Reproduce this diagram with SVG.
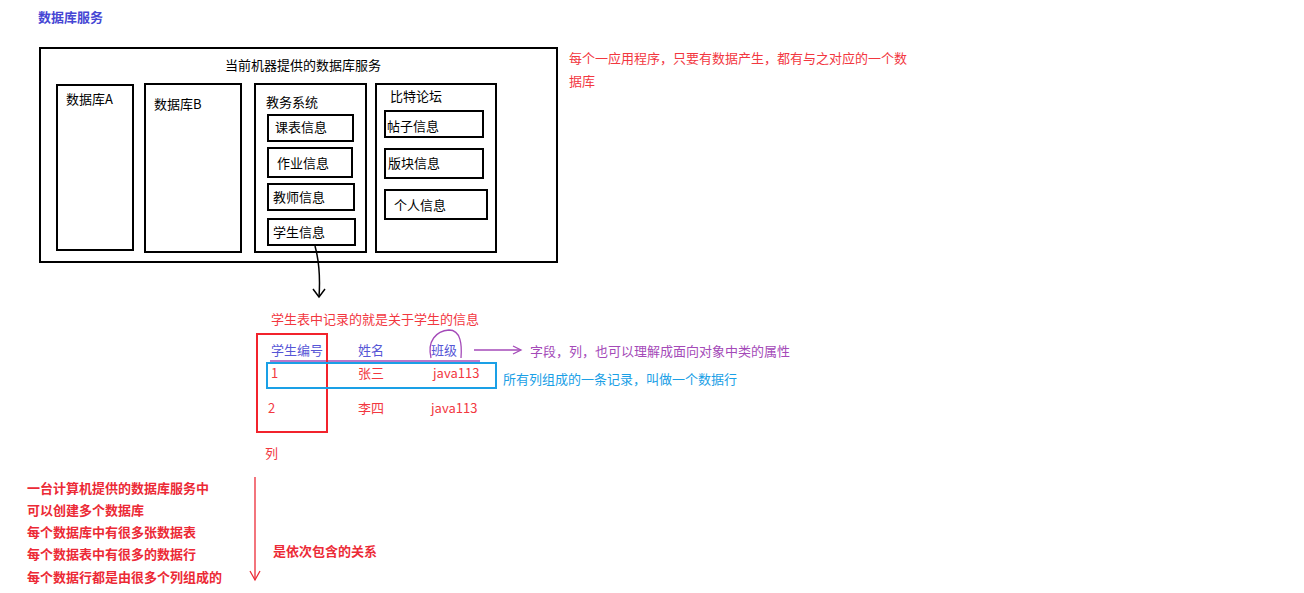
<svg xmlns="http://www.w3.org/2000/svg" width="1304" height="593" viewBox="0 0 1304 593">
<defs>
<style>
text{font-family:"Microsoft YaHei","Noto Sans CJK SC","Noto Sans",sans-serif;font-size:13px;fill:#000}
.box{fill:none;stroke:#000;stroke-width:2}
.red{fill:#f2373f}
.bred{fill:#ec2a36;font-weight:bold}
.hdr{fill:#5656d6}
.pur{fill:#a44ab8}
.blu{fill:#1aa0e6}
</style>
</defs>
<rect width="1304" height="593" fill="#fff"/>
<text x="38" y="22" style="fill:#4646d4;font-weight:bold">数据库服务</text>

<g id="server">
<rect class="box" x="40" y="48" width="517" height="214"/>
<text x="303" y="70" text-anchor="middle">当前机器提供的数据库服务</text>
</g>
<g id="dbA"><rect class="box" x="57" y="85" width="76" height="165"/><text x="66" y="104">数据库A</text></g>
<g id="dbB"><rect class="box" x="145" y="84" width="96" height="168"/><text x="154" y="109">数据库B</text></g>
<g id="jiaowu"><rect class="box" x="255" y="84" width="111" height="168"/><text x="266" y="107">教务系统</text></g>
<g id="kebiao"><rect class="box" x="268" y="115" width="85" height="26"/><text x="275" y="132">课表信息</text></g>
<g id="zuoye"><rect class="box" x="268" y="148" width="84" height="29"/><text x="277" y="168">作业信息</text></g>
<g id="jiaoshi"><rect class="box" x="268" y="184" width="86" height="26"/><text x="273" y="202">教师信息</text></g>
<g id="xuesheng"><rect class="box" x="268" y="219" width="87" height="26"/><text x="273" y="237">学生信息</text></g>
<g id="bite"><rect class="box" x="376" y="84" width="120" height="168"/><text x="390" y="101">比特论坛</text></g>
<g id="tiezi"><rect class="box" x="385" y="111" width="98" height="26"/><text x="387" y="131">帖子信息</text></g>
<g id="bankuai"><rect class="box" x="385" y="149" width="98" height="29"/><text x="388" y="168">版块信息</text></g>
<g id="geren"><rect class="box" x="385" y="190" width="102" height="29"/><text x="394" y="210">个人信息</text></g>

<text class="red" x="569" y="63">每个一应用程序，只要有数据产生，都有与之对应的一个数</text>
<text class="red" x="569" y="86">据库</text>

<g id="connectors" fill="none">
<path d="M315 246 Q321 268 319 297" stroke="#000" stroke-width="1.5"/>
<path d="M313 289 L319 297 L325 289" stroke="#000" stroke-width="1.5"/>
<path d="M431 358 C427 341 436 331 449 330 C461 330 462 345 461 358" stroke="#a44ab8" stroke-width="1.3"/>
<line x1="270" y1="361" x2="480" y2="361" stroke="#a44ab8" stroke-width="1.3"/>
<line x1="474" y1="350" x2="520" y2="350" stroke="#a44ab8" stroke-width="1.3"/>
<path d="M513 346 L521 350 L513 354" stroke="#a44ab8" stroke-width="1.3"/>
<rect x="257" y="334" width="70" height="98" stroke="#f2232c" stroke-width="2"/>
<rect x="267" y="363" width="229" height="25" stroke="#1aa0e6" stroke-width="2"/>
<line x1="255" y1="477" x2="255" y2="580" stroke="#ec2a36" stroke-width="1.3"/>
<path d="M250 571 L255 580 L260 571" stroke="#ec2a36" stroke-width="1.3"/>
</g>

<text class="red" x="271" y="324">学生表中记录的就是关于学生的信息</text>
<text class="hdr" x="271" y="355">学生编号</text>
<text class="hdr" x="358" y="355">姓名</text>
<text class="hdr" x="431" y="355">班级</text>
<text class="pur" x="530" y="356">字段，列，也可以理解成面向对象中类的属性</text>
<text class="red" x="271" y="378">1</text>
<text class="red" x="358" y="378">张三</text>
<text class="red" x="433" y="378">java113</text>
<text class="blu" x="503" y="384">所有列组成的一条记录，叫做一个数据行</text>
<text class="red" x="268" y="413">2</text>
<text class="red" x="358" y="413">李四</text>
<text class="red" x="431" y="413">java113</text>
<text class="red" x="265" y="458">列</text>

<text class="bred" x="27" y="493">一台计算机提供的数据库服务中</text>
<text class="bred" x="27" y="515">可以创建多个数据库</text>
<text class="bred" x="27" y="537">每个数据库中有很多张数据表</text>
<text class="bred" x="27" y="559">每个数据表中有很多的数据行</text>
<text class="bred" x="27" y="582">每个数据行都是由很多个列组成的</text>
<text class="bred" x="273" y="556">是依次包含的关系</text>
</svg>
